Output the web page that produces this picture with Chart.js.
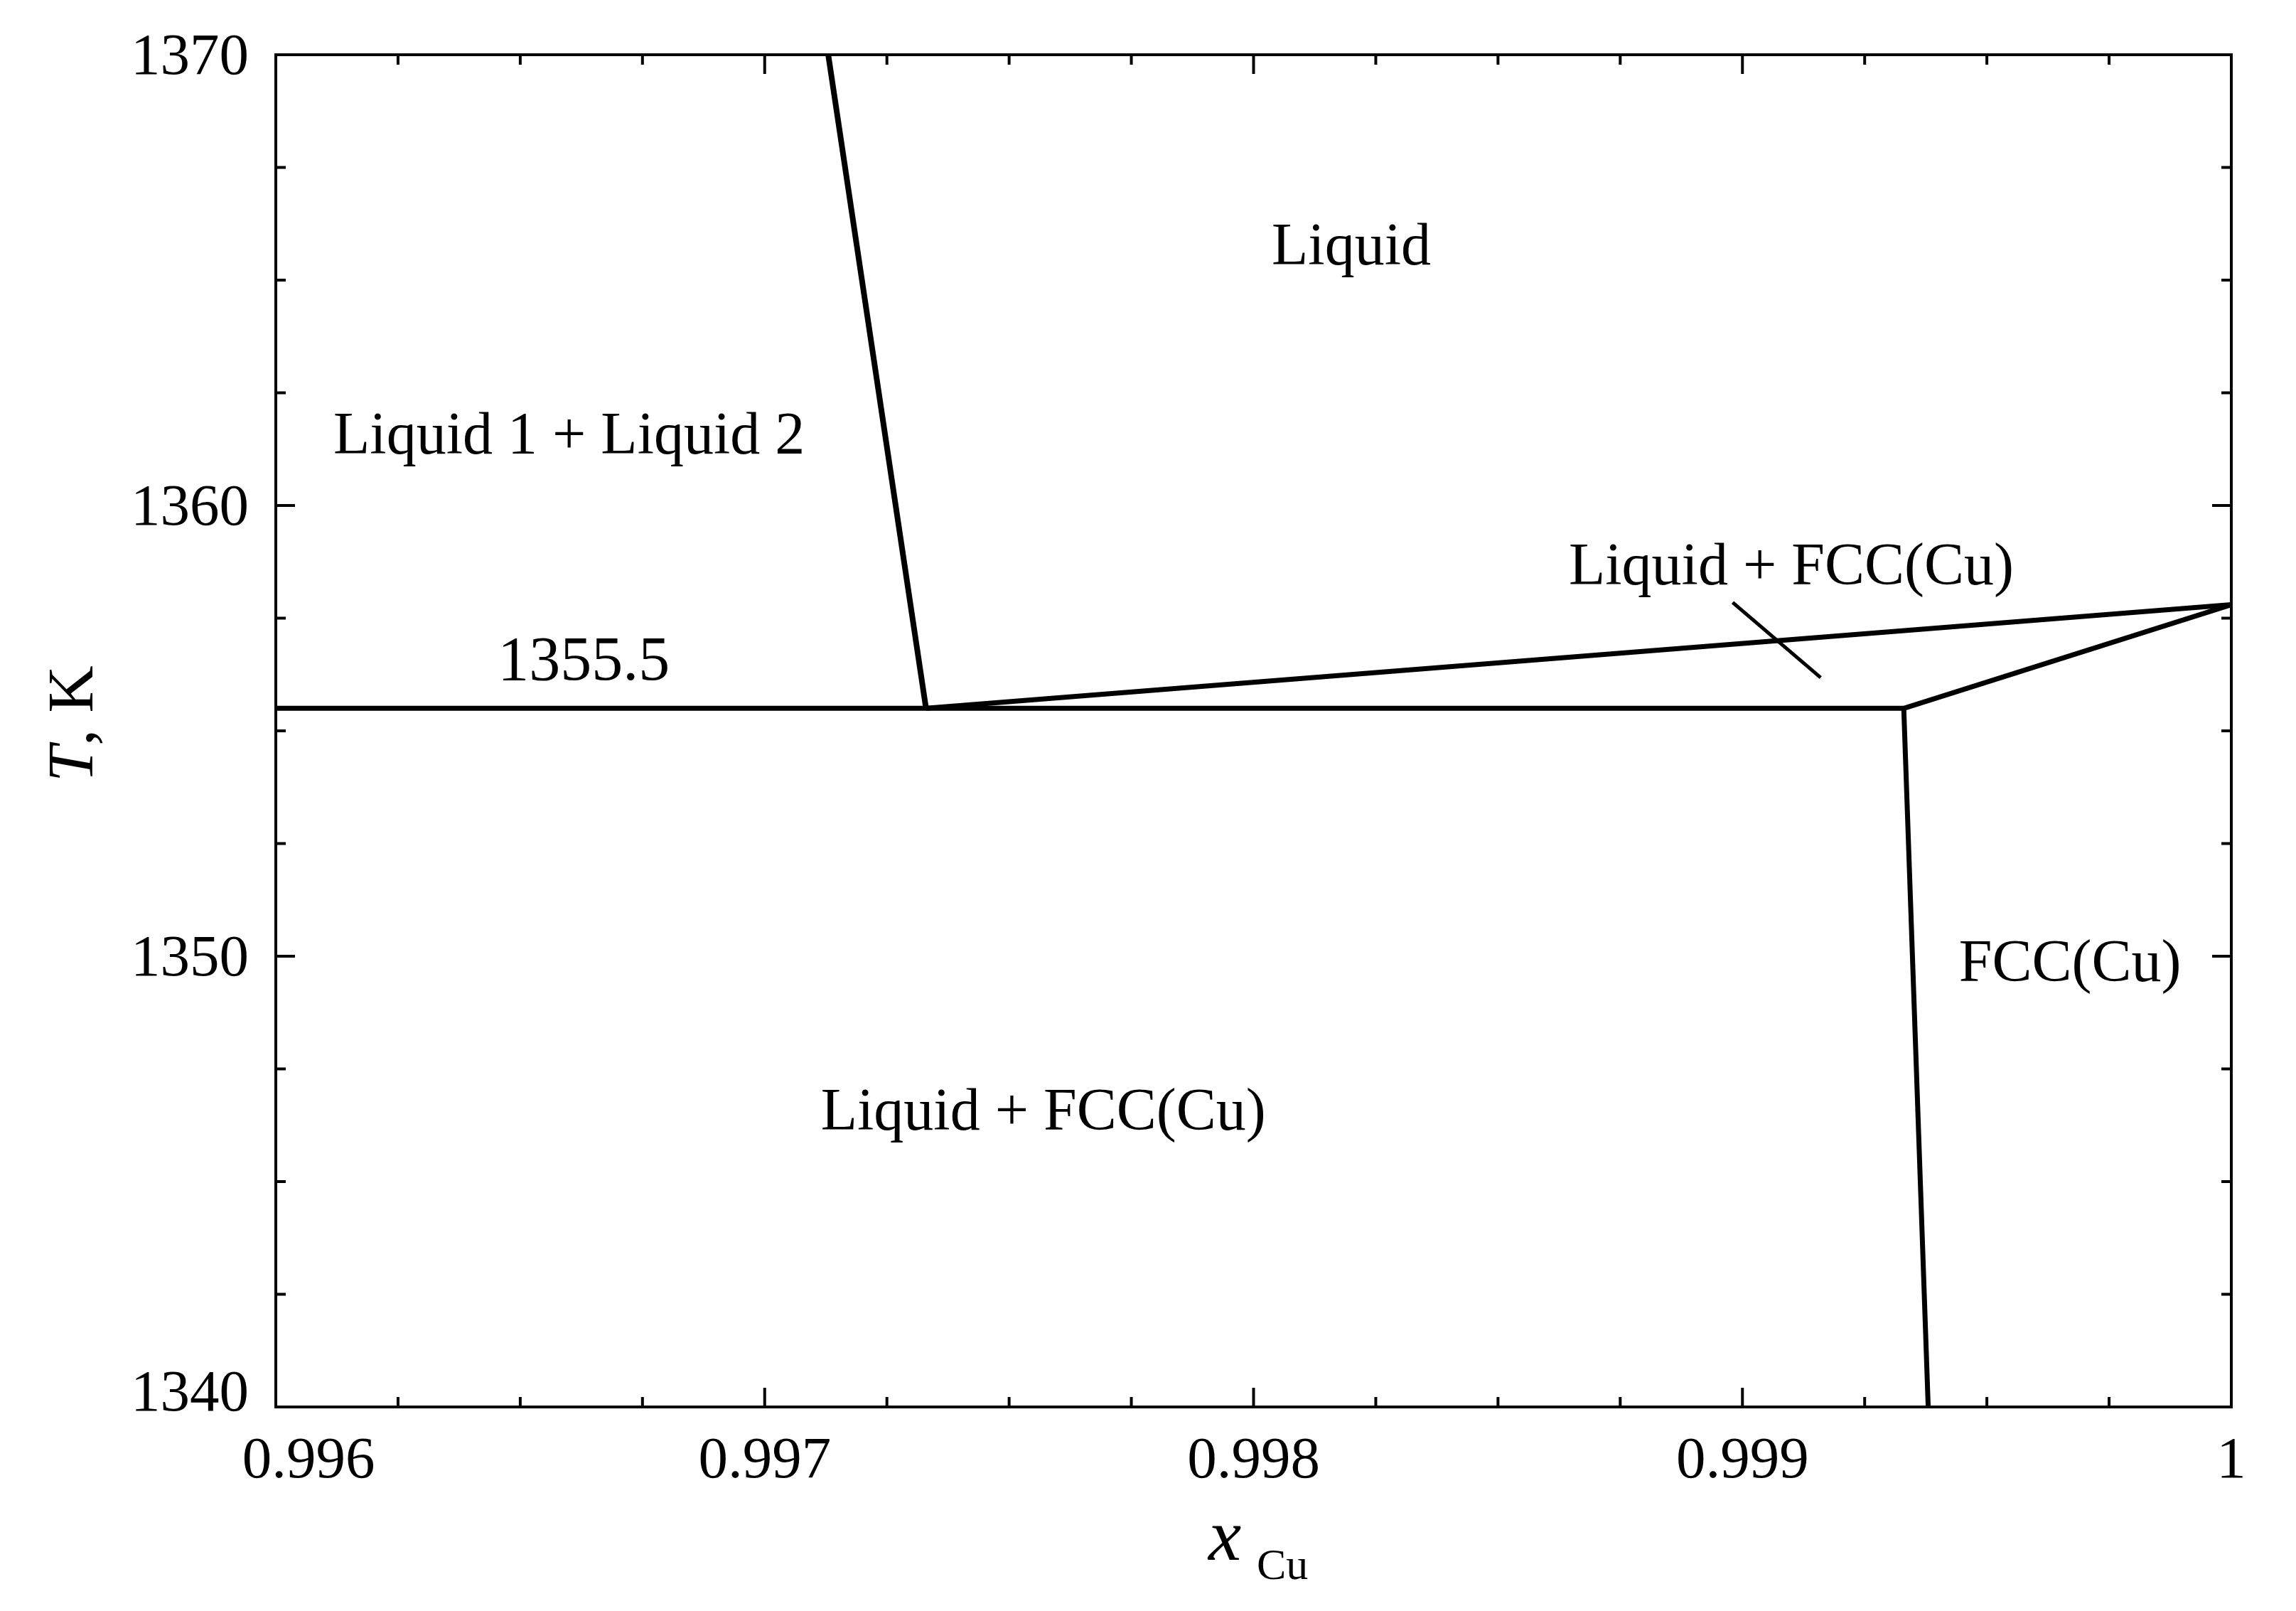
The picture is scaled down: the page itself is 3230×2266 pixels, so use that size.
<!DOCTYPE html>
<html>
<head>
<meta charset="utf-8">
<title>Cu-rich corner phase diagram</title>
<script src="https://cdn.jsdelivr.net/npm/chart.js@4.4.1/dist/chart.umd.min.js"></script>
<style>
  html, body { margin: 0; padding: 0; background: #fff; }
  canvas { display: block; }
</style>
</head>
<body>
<canvas id="phase-chart" width="3230" height="2266"></canvas>
<script>
/* ============================================================
   DATA
   ============================================================ */

// axis ticks
const xMajorTicks = [0.996, 0.997, 0.998, 0.999, 1.0];
const xTickLabels = ['0.996', '0.997', '0.998', '0.999', '1'];
const xMinorTicks = [0.99625, 0.9965, 0.99675, 0.99725, 0.9975, 0.99775,
                     0.99825, 0.9985, 0.99875, 0.99925, 0.9995, 0.99975];
const yMajorTicks = [1340, 1350, 1360, 1370];
const yTickLabels = ['1340', '1350', '1360', '1370'];
const yMinorTicks = [1342.5, 1345, 1347.5, 1352.5, 1355, 1357.5, 1362.5, 1365, 1367.5];

// phase boundaries (x_Cu, T in K)
const miscibilityX = [0.99713, 0.99733];
const miscibilityT = [1370, 1355.5];
const monotecticX  = [0.996, 0.99933];
const monotecticT  = [1355.5, 1355.5];
const liquidusX    = [0.99733, 1.0];
const liquidusT    = [1355.5, 1357.8];
const solidusX     = [0.99933, 1.0];
const solidusT     = [1355.5, 1357.8];
const solvusX      = [0.99933, 0.99938];
const solvusT      = [1355.5, 1340];
const pointerX     = [0.99898, 0.99916];
const pointerT     = [1357.85, 1356.18];

// region labels
const regionNames = ['Liquid', 'Liquid 1 + Liquid 2', '1355.5', 'Liquid + FCC(Cu)', 'FCC(Cu)', 'Liquid + FCC(Cu)'];
const regionX     = [0.99820, 0.99660, 0.99663, 0.99910, 0.99967, 0.99757];
const regionT     = [1365.7, 1361.5, 1356.5, 1358.6, 1349.8, 1346.5];

/* ============================================================
   HELPERS
   ============================================================ */

const SERIF = '"Liberation Serif", "Times New Roman", serif';

function toPoints(xs, ts) {
    return xs.map((x, i) => ({ x: x, y: ts[i] }));
}

function boundary(label, xs, ts, width) {
    return {
        label: label,
        data: toPoints(xs, ts),
        showLine: true,
        borderColor: '#000',
        borderWidth: width,
        pointRadius: 0,
        tension: 0,
        fill: false,
        borderCapStyle: 'butt',
        borderJoinStyle: 'miter'
    };
}

// frame, inward ticks, tick labels, axis titles and region labels
const framePlugin = {
    id: 'frame',
    afterDraw(chart) {
        const ctx = chart.ctx;
        const xs = chart.scales.x, ys = chart.scales.y;
        const a = chart.chartArea;
        ctx.save();
        ctx.strokeStyle = '#000';
        ctx.fillStyle = '#000';
        ctx.lineWidth = 4;
        ctx.strokeRect(a.left, a.top, a.right - a.left, a.bottom - a.top);

        const tick = (x1, y1, x2, y2) => {
            ctx.beginPath(); ctx.moveTo(x1, y1); ctx.lineTo(x2, y2); ctx.stroke();
        };
        const MAJ = 27, MIN = 14;
        xMajorTicks.forEach(v => {
            const px = xs.getPixelForValue(v);
            tick(px, a.bottom, px, a.bottom - MAJ);
            tick(px, a.top, px, a.top + MAJ);
        });
        xMinorTicks.forEach(v => {
            const px = xs.getPixelForValue(v);
            tick(px, a.bottom, px, a.bottom - MIN);
            tick(px, a.top, px, a.top + MIN);
        });
        yMajorTicks.forEach(v => {
            const py = ys.getPixelForValue(v);
            tick(a.left, py, a.left + MAJ, py);
            tick(a.right, py, a.right - MAJ, py);
        });
        yMinorTicks.forEach(v => {
            const py = ys.getPixelForValue(v);
            tick(a.left, py, a.left + MIN, py);
            tick(a.right, py, a.right - MIN, py);
        });

        // tick labels
        ctx.font = '83px ' + SERIF;
        ctx.textBaseline = 'alphabetic';
        ctx.textAlign = 'center';
        xMajorTicks.forEach((v, i) => {
            let px = xs.getPixelForValue(v);
            if (i === 0) px += 46;   // first label pushed clear of the corner
            ctx.fillText(xTickLabels[i], px, a.bottom + 99);
        });
        ctx.textAlign = 'right';
        yMajorTicks.forEach((v, i) => {
            let py = ys.getPixelForValue(v);
            if (i === 0) py -= 22;   // bottom label lifted off the corner
            ctx.fillText(yTickLabels[i], a.left - 38, py + 27);
        });

        // x axis title: italic x with subscript Cu
        ctx.textAlign = 'left';
        ctx.font = 'italic 104px ' + SERIF;
        ctx.fillText('x', 1700, 2194);
        ctx.font = '62px ' + SERIF;
        ctx.fillText('Cu', 1768, 2221);

        // y axis title: rotated "T, K" with italic T
        ctx.save();
        ctx.translate(130, 1100);
        ctx.rotate(-Math.PI / 2);
        ctx.font = 'italic 92px ' + SERIF;
        ctx.fillText('T', 0, 0);
        let w = ctx.measureText('T').width;
        ctx.font = '92px ' + SERIF;
        ctx.fillText(', K', w, 0);
        ctx.restore();

        // region labels
        ctx.textAlign = 'center';
        ctx.textBaseline = 'middle';
        regionNames.forEach((name, i) => {
            ctx.font = (name === '1355.5' ? '88px ' : '84px ') + SERIF;
            ctx.fillText(name, xs.getPixelForValue(regionX[i]), ys.getPixelForValue(regionT[i]));
        });
        ctx.restore();
    }
};

/* ============================================================
   CHART
   ============================================================ */

function renderPhaseChart() {
    const ctx = document.getElementById('phase-chart');
    return new Chart(ctx, {
        type: 'scatter',
        data: {
            datasets: [
                boundary('Miscibility gap', miscibilityX, miscibilityT, 8),
                boundary('Monotectic', monotecticX, monotecticT, 7),
                boundary('Liquidus', liquidusX, liquidusT, 7),
                boundary('Solidus', solidusX, solidusT, 7),
                boundary('Solvus', solvusX, solvusT, 7),
                boundary('Pointer', pointerX, pointerT, 5)
            ]
        },
        options: {
            responsive: false,
            animation: false,
            devicePixelRatio: 1,
            layout: { padding: { left: 388, right: 91, top: 77, bottom: 287 } },
            plugins: { legend: { display: false }, tooltip: { enabled: false } },
            scales: {
                x: { type: 'linear', min: 0.996, max: 1.0, display: false },
                y: { type: 'linear', min: 1340, max: 1370, display: false }
            }
        },
        plugins: [framePlugin]
    });
}

renderPhaseChart();
</script>
</body>
</html>
